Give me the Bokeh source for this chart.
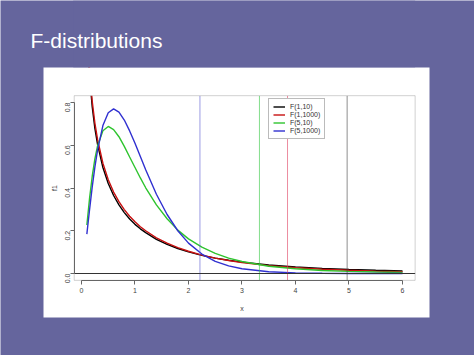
import math
from bokeh.plotting import figure
from bokeh.models import (Range1d, FixedTicker, PrintfTickFormatter, Legend,
                          LegendItem, Label, BoxAnnotation)
from bokeh.embed import file_html
from bokeh.resources import INLINE

# ---- data ----
xs = [0.1, 0.15, 0.2, 0.25, 0.3, 0.4, 0.5, 0.6, 0.7, 0.8, 0.9, 1.0, 1.1, 1.2, 1.4, 1.6,
      1.8, 2.0, 2.25, 2.5, 2.75, 3.0, 3.5, 4.0, 4.5, 5.0, 5.5, 6.0]
f_1_10 = [1.165, 0.926, 0.780, 0.679, 0.604, 0.496, 0.421, 0.365, 0.321, 0.285, 0.255,
          0.230, 0.209, 0.191, 0.160, 0.136, 0.117, 0.101, 0.085, 0.072, 0.062, 0.053,
          0.040, 0.031, 0.024, 0.019, 0.015, 0.012]
f_1_1000 = [1.200, 0.955, 0.807, 0.704, 0.627, 0.516, 0.439, 0.381, 0.336, 0.299, 0.268,
            0.242, 0.219, 0.200, 0.167, 0.142, 0.121, 0.104, 0.086, 0.072, 0.061, 0.051,
            0.037, 0.027, 0.020, 0.015, 0.011, 0.008]
f_5_10 = [0.227, 0.350, 0.454, 0.536, 0.597, 0.668, 0.688, 0.673, 0.640, 0.595, 0.545,
          0.496, 0.447, 0.401, 0.321, 0.256, 0.203, 0.162, 0.123, 0.094, 0.072, 0.056,
          0.034, 0.022, 0.014, 0.010, 0.007, 0.005]
f_5_1000 = [0.184, 0.297, 0.404, 0.498, 0.577, 0.692, 0.752, 0.770, 0.755, 0.718, 0.667,
            0.609, 0.547, 0.485, 0.371, 0.276, 0.200, 0.142, 0.091, 0.057, 0.036, 0.022,
            0.008, 0.003, 0.001, 0.000, 0.000, 0.000]
series_names = ["F(1,10)", "F(1,1000)", "F(5,10)", "F(5,1000)"]
crit = [4.965, 3.851, 3.326, 2.214]   # 95% quantiles, same order as series
x_ticks = [0, 1, 2, 3, 4, 5, 6]
y_ticks = [0.0, 0.2, 0.4, 0.6, 0.8]
box_x = (-0.136, 6.236)   # R plot region limits
box_y = (-0.032, 0.832)

curve_colors = ["#000000", "#c81010", "#2ec42e", "#3030d0"]
vline_colors = ["#444444", "#e0405f", "#30c840", "#5a5ad0"]
BG = "#65659d"
FONT = "Liberation Sans"
W, H = 474, 355

# frame covers the whole canvas; the R-style plot box sits inside it
p = figure(width=W, height=H, x_range=Range1d(-1.514, 7.3458),
           y_range=Range1d(-0.3836, 1.2772), output_backend="svg",
           toolbar_location=None, min_border=0, title=None)
p.background_fill_color = BG
p.border_fill_color = BG
p.outline_line_color = None
p.grid.visible = False

# white slide panel
p.add_layout(BoxAnnotation(left=43, right=429, bottom=H - 317, top=H - 67,
                           left_units="screen", right_units="screen",
                           bottom_units="screen", top_units="screen",
                           fill_color="white", fill_alpha=1.0, line_color=None,
                           level="underlay"))

renderers = []
for yv, c in zip([f_1_10, f_1_1000, f_5_10, f_5_1000], curve_colors):
    renderers.append(p.line(xs, yv, line_color=c, line_width=1.4))

# clip curves at the top of the plot box (white inside panel, purple above it)
p.add_layout(BoxAnnotation(left=box_x[0] - 0.02, right=box_x[1], bottom=box_y[1],
                           top=H - 67, top_units="screen",
                           fill_color="white", fill_alpha=1.0, line_color=None))
p.add_layout(BoxAnnotation(left=box_x[0] - 0.02, right=box_x[1], bottom=H - 67,
                           top=H, bottom_units="screen", top_units="screen",
                           fill_color=BG, fill_alpha=1.0, line_color=None))

# quantile lines and the zero line
p.segment(x0=crit, y0=[box_y[0]] * 4, x1=crit, y1=[box_y[1]] * 4,
          line_color=vline_colors, line_width=1, line_alpha=0.6)
p.segment(x0=[box_x[0]], y0=[0], x1=[box_x[1]], y1=[0],
          line_color="#333333", line_width=1)

# plot box
p.add_layout(BoxAnnotation(left=box_x[0], right=box_x[1], bottom=box_y[0], top=box_y[1],
                           fill_alpha=0, line_color="#666666", line_width=1))

# axes, placed at the box edges
xa, ya = p.xaxis[0], p.yaxis[0]
xa.fixed_location = box_y[0]
ya.fixed_location = box_x[0]
for ax in (xa, ya):
    ax.axis_line_color = "#666666"
    ax.major_tick_line_color = "#666666"
    ax.major_tick_out = 4
    ax.major_tick_in = 0
    ax.minor_tick_line_color = None
    ax.major_label_text_font = FONT
    ax.major_label_text_font_size = "7px"
    ax.major_label_text_color = "#444444"
    ax.axis_label_text_font = FONT
    ax.axis_label_text_font_size = "7px"
    ax.axis_label_text_font_style = "normal"
    ax.axis_label_text_color = "#444444"

xa.ticker = FixedTicker(ticks=x_ticks)
xa.bounds = (x_ticks[0], x_ticks[-1])
xa.major_label_standoff = 4
xa.axis_label = "x"
xa.axis_label_standoff = 8

ya.ticker = FixedTicker(ticks=y_ticks)
ya.bounds = (y_ticks[0], y_ticks[-1])
ya.formatter = PrintfTickFormatter(format="%.1f")
ya.major_label_orientation = math.pi / 2
ya.major_label_standoff = 3
ya.axis_label = "f1"
ya.axis_label_standoff = 2

legend = Legend(items=[LegendItem(label=n, renderers=[r]) for n, r in zip(series_names, renderers)],
                location=(268, H - 139), label_text_font=FONT, label_text_font_size="7px",
                label_text_color="#333333",
                label_height=7, glyph_height=7, glyph_width=12, label_standoff=5,
                spacing=1, padding=4, margin=0, border_line_color="#777777",
                border_line_width=1, background_fill_alpha=1.0)
p.add_layout(legend)

p.add_layout(Label(x=30, y=H - 40, x_units="screen", y_units="screen",
                   text="F-distributions", text_color="white", text_font=FONT,
                   text_font_size="21px", text_baseline="alphabetic"))

open("out.html", "w").write(file_html(p, INLINE))
